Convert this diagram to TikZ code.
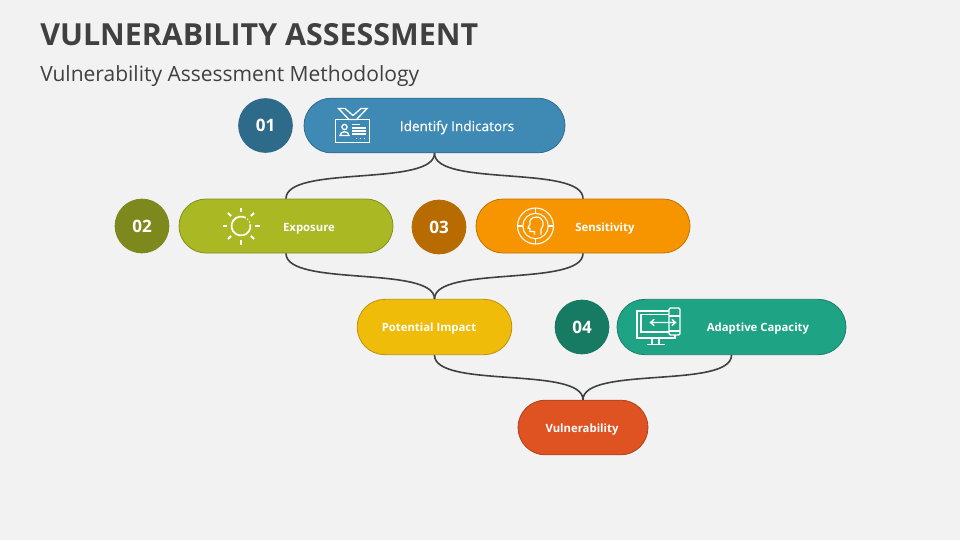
\documentclass[tikz,border=0pt]{standalone}
\usepackage{fontspec}
\setmainfont{Open Sans}
\usetikzlibrary{shapes.misc}
\definecolor{pagebg}{HTML}{F2F2F2}
\definecolor{ink}{HTML}{404040}
\definecolor{blueA}{HTML}{3F89B5}
\definecolor{blueB}{HTML}{2E6A8A}
\definecolor{oliveA}{HTML}{A9B823}
\definecolor{oliveB}{HTML}{7D891C}
\definecolor{orangeA}{HTML}{F79500}
\definecolor{orangeB}{HTML}{B86B00}
\definecolor{yellowA}{HTML}{F0BC0A}
\definecolor{greenA}{HTML}{1FA385}
\definecolor{greenB}{HTML}{177A62}
\definecolor{redA}{HTML}{DF5322}
\tikzset{
  pill/.style   = {rounded rectangle, draw=#1!78!black, fill=#1, line width=0.6pt, inner sep=0pt},
  number/.style = {circle, fill=#1, text=white, minimum size=41pt, inner sep=0pt,
                   font=\fontsize{12.8}{15}\selectfont\bfseries},
  caption/.style = {text=white, inner sep=0pt, font=\fontsize{8.5}{12}\selectfont\bfseries},
  link/.style   = {draw=ink, line width=1.2pt},
  icon/.style   = {draw=white, line width=1pt}
}
\begin{document}
\begin{tikzpicture}[x=0.75pt,y=-0.75pt]
\fill[pagebg] (0,0) rectangle (960,540);
\useasboundingbox (0,0) rectangle (960,540);
\node[anchor=west,inner sep=0pt,text=ink,font=\fontsize{22.8}{28}\selectfont\bfseries] (title) at (40,34.5) {VULNERABILITY ASSESSMENT};
\node[anchor=west,inner sep=0pt,text=ink,font=\fontsize{15.75}{20}\selectfont] (subtitle) at (40,76) {Vulnerability Assessment Methodology};

\node[pill=blueA, minimum width=195.75pt, minimum height=41pt] (identify) at (434.5,125.5) {};
\node[pill=oliveA, minimum width=160.5pt, minimum height=40.5pt] (exposure) at (286,226) {};
\node[pill=orangeA, minimum width=160.5pt, minimum height=40.5pt] (sensitivity) at (583,226) {};
\node[pill=yellowA, minimum width=116pt, minimum height=41.5pt] (impact) at (434.5,327) {};
\node[pill=greenA, minimum width=171.75pt, minimum height=41.5pt] (adaptive) at (731.5,327) {};
\node[pill=redA, minimum width=97.5pt, minimum height=41pt] (vulnerability) at (583,427.5) {};

\node[number=blueB] (n1) at (265.5,125.5) {01};
\node[number=oliveB] (n2) at (142,226) {02};
\node[number=orangeB] (n3) at (439,227) {03};
\node[number=greenB] (n4) at (582,327) {04};

\node[caption,font=\fontsize{10.2}{12}\selectfont\addfontfeature{FakeBold=0.4}] (identifytext) at (457,127.5) {Identify Indicators};
\node[caption] (exposuretext) at (309,229) {Exposure};
\node[caption] (sensitivitytext) at (605,229) {Sensitivity};
\node[caption] (impacttext) at (429,329) {Potential Impact};
\node[caption] (adaptivetext) at (758,329) {Adaptive Capacity};
\node[caption] (vulnerabilitytext) at (582,430) {Vulnerability};

\foreach \from/\to in {identify/exposure,identify/sensitivity,exposure/impact,sensitivity/impact,impact/vulnerability,adaptive/vulnerability}
  \draw[link] (\from.south) .. controls +(0,34) and +(0,-34) .. (\to.north);

% badge
\draw[icon,line width=1.3pt] (335.5,119.5) rectangle (369.5,142.5);
\draw[icon] (338.5,108.5) -- (345,108.5) -- (353,115.5) -- (361,108.5) -- (367,108.5) -- (356.5,119.5) -- (349,119.5) -- cycle;
\draw[icon] (344.5,127) circle (2.6);
\draw[icon] (340,135.5) .. controls (340,130.5) and (349,130.5) .. (349,135.5) -- cycle;
\foreach \y/\x in {124.5/360,128/366,131/366,134/366}
  \draw[icon] (352,\y) -- (\x,\y);
\draw[icon,dotted] (356,138.5) -- (366,138.5);

% sun
\draw[icon,line width=1.3pt] (241,226) ++(-10:9.5) arc[start angle=-10,end angle=300,radius=9.5];
\foreach \a in {0,45,...,315}
  \draw[icon,line width=1.4pt] (241,226) ++(\a:14) -- ++(\a:4.5);
\fill[white] (241,226) ++(-25:9.5) circle (0.8) (241,226) ++(-45:9.5) circle (0.8);

% head
\draw[icon,line width=0.8pt] (535.5,226) circle (18) circle (12.7);
\foreach \a in {0,90,180,270}
  \draw[icon,line width=0.8pt] (535.5,226) ++(\a:12.7) -- ++(\a:5.3);
\draw[icon,line width=0.9pt] (541,234.5) -- (541,229.5) .. controls (545,225) and (543.5,217) .. (536.5,217) .. controls (531,217) and (529,221) .. (530,224) -- (528,228) -- (530,228.5) -- (530,231.5) -- (534.5,231.5) -- (534.5,234.5);

% monitor
\draw[icon] (669,311) -- (637,311) -- (637,338) -- (675,338) -- (675,335);
\draw[icon] (669,314.5) -- (641,314.5) -- (641,332) -- (669,332);
\draw[icon,rounded corners=1pt] (669,308) rectangle (680,335);
\draw[icon] (669,316) -- (680,316) (669,331) -- (680,331);
\draw[icon,line cap=round] (651,322.5) -- (675,322.5) (654,319.5) -- (650.5,322.5) -- (654,325.5) (672,319.5) -- (675.5,322.5) -- (672,325.5);
\draw[icon] (652,338) -- (652,344.5) (659,338) -- (659,344.5) (647,344.5) -- (665,344.5);
\end{tikzpicture}
\end{document}
